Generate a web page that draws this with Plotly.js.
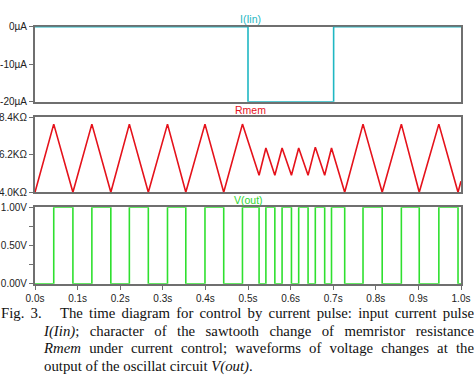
<!DOCTYPE html>
<html>
<head>
<meta charset="utf-8">
<script src="https://cdn.plot.ly/plotly-3.0.1.min.js"></script>
<style>
  html, body { margin:0; padding:0; background:#fff; }
  #wrap { position:relative; width:474px; height:382px; overflow:hidden; }
  #chart { position:absolute; left:0; top:0; width:474px; height:382px; }
  .cap { position:absolute; left:1px; width:473px; height:18px; box-sizing:border-box;
    font-family:"Liberation Serif","Times New Roman",serif; font-size:14.8px; line-height:18px; color:#111;
    text-align:justify; text-align-last:justify; white-space:nowrap; }
  .cap.ind { padding-left:43px; }
  .cap.last { text-align-last:left; }
</style>
</head>
<body>
<div id="wrap">
  <div id="chart"></div>
  <div class="cap" style="top:303.7px; white-space:normal;">Fig. 3.&nbsp;&nbsp; The time diagram for control by current pulse: input current pulse</div>
  <div class="cap ind" style="top:321.7px; white-space:normal;"><i>I(Iin)</i>; character of the sawtooth change of memristor resistance</div>
  <div class="cap ind" style="top:339.3px; white-space:normal;"><i>Rmem</i> under current control; waveforms of voltage changes at the</div>
  <div class="cap ind last" style="top:356.7px;">output of the oscillat circuit <i>V(out)</i>.</div>
</div>
<script>
// ---- data ----
const iinTime = [0, 0.500, 0.500, 0.701, 0.701, 1.0];
const iinMicroA = [0, 0, -20, -20, 0, 0];

const rmemTime = [0, 0.044, 0.089, 0.1335, 0.178, 0.2215, 0.266, 0.311, 0.354, 0.399,
  0.443, 0.487, 0.526, 0.542, 0.563, 0.580, 0.602, 0.619, 0.641, 0.658,
  0.680, 0.696, 0.727, 0.770, 0.815, 0.860, 0.902, 0.948, 0.993, 1.0];
const rmemKOhm = [4.0, 8.0, 4.0, 8.0, 4.0, 8.0, 4.0, 8.0, 4.0, 8.0,
  4.0, 8.0, 5.0, 6.6, 5.0, 6.6, 5.0, 6.6, 5.0, 6.65,
  5.0, 6.6, 4.0, 8.0, 4.0, 8.0, 4.0, 8.0, 4.0, 4.65];

const voutTime = rmemTime;
const voutV = [0, 1, 0, 1, 0, 1, 0, 1, 0, 1,
  0, 1, 0, 1, 0, 1, 0, 1, 0, 1,
  0, 1, 0, 1, 0, 1, 0, 1, 0, 0];

const xTickVals = [0, 0.1, 0.2, 0.3, 0.4, 0.5, 0.6, 0.7, 0.8, 0.9, 1.0];
const xTickText = ['0.0s','0.1s','0.2s','0.3s','0.4s','0.5s','0.6s','0.7s','0.8s','0.9s','1.0s'];
const iTickVals = [0, -10, -20];
const iTickText = ['0µA', '-10µA', '-20µA'];
const rTickVals = [4000, 6200, 8400];
const rTickText = ['4.0KΩ', '6.2KΩ', '8.4KΩ'];
const vTickVals = [0, 0.25, 0.5, 0.75, 1.0];
const vTickText = ['0.00V', '', '0.50V', '', '1.00V'];

// ---- styles ----
const frame = '#6f6f6f';
const tickFont = {family:'Liberation Sans, Arial, sans-serif', size:10, color:'#222'};
function xAx(anchor, labels) {
  return {domain:[0,1], range:[0,1], anchor:anchor, showgrid:false, zeroline:false,
    showline:true, mirror:true, linecolor:frame, linewidth:2,
    tickmode:'array', tickvals:xTickVals, ticktext:labels ? xTickText : xTickVals.map(()=>''),
    ticks: labels ? 'outside' : '', ticklen:4, tickcolor:frame, tickwidth:1,
    showticklabels:labels, tickfont:tickFont, layer:'below traces', fixedrange:true};
}
function yAx(anchor, dom, rng, tv, tt) {
  return {domain:dom, range:rng, anchor:anchor, showgrid:false, zeroline:false,
    showline:true, mirror:true, linecolor:frame, linewidth:2,
    tickmode:'array', tickvals:tv, ticktext:tt, ticks:'outside', ticklen:4,
    tickcolor:frame, tickwidth:1, tickfont:tickFont, layer:'below traces', fixedrange:true};
}

const traces = [
  {x:iinTime, y:iinMicroA, xaxis:'x', yaxis:'y', mode:'lines',
    line:{color:'#1fb7c3', width:1.6}, hoverinfo:'skip'},
  {x:rmemTime, y:rmemKOhm.map(v => v*1000), xaxis:'x2', yaxis:'y2', mode:'lines',
    line:{color:'#e5121b', width:1.6}, hoverinfo:'skip'},
  {x:voutTime, y:voutV, xaxis:'x3', yaxis:'y3', mode:'lines',
    line:{color:'#2fe02f', width:1.6, shape:'hv'}, hoverinfo:'skip'}
];

const H = 382;
const dom = (top, bot) => [1 - bot/H, 1 - top/H];
const titleFont = c => ({family:'Liberation Sans, Arial, sans-serif', size:10.5, color:c});

const layout = {
  width:474, height:382, showlegend:false,
  paper_bgcolor:'#fff', plot_bgcolor:'#fff',
  margin:{l:35, r:12.5, t:0, b:0},
  xaxis: xAx('y', false),
  xaxis2: xAx('y2', false),
  xaxis3: xAx('y3', true),
  yaxis: yAx('x', dom(26.7, 101.7), [-20, 0], iTickVals, iTickText),
  yaxis2: yAx('x2', dom(117.3, 192.3), [4000, 8400], rTickVals, rTickText),
  yaxis3: yAx('x3', dom(207.3, 283.7), [0, 1], vTickVals, vTickText),
  annotations: [
    {text:'I(Iin)', xref:'paper', yref:'paper', x:0.505, y:1 - 19/H, yanchor:'middle', xanchor:'center',
      showarrow:false, font:titleFont('#1fb7c3')},
    {text:'Rmem', xref:'paper', yref:'paper', x:0.505, y:1 - 110/H, yanchor:'middle', xanchor:'center',
      showarrow:false, font:titleFont('#e5121b')},
    {text:'V(out)', xref:'paper', yref:'paper', x:0.5, y:1 - 200/H, yanchor:'middle', xanchor:'center',
      showarrow:false, font:titleFont('#2fd62f')}
  ]
};

Plotly.newPlot('chart', traces, layout, {displayModeBar:false, staticPlot:true});
</script>
</body>
</html>
